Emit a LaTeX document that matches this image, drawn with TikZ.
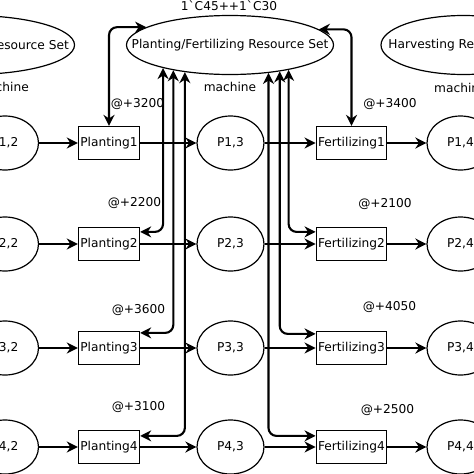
\documentclass[tikz,border=0pt]{standalone}
\usepackage{fontspec}
\setmainfont{DejaVu Sans}
\usetikzlibrary{arrows.meta,shapes.geometric}
\begin{document}
\begin{tikzpicture}[x=1pt,y=-1pt,
  font=\fontsize{12.2}{14}\selectfont,
  place/.style={draw,ellipse,line width=1.2pt,minimum width=67pt,minimum height=54pt,inner sep=0pt},
  trans/.style={draw,rectangle,line width=1.2pt,minimum height=33pt,inner xsep=1.9pt,inner ysep=0pt},
  resset/.style={draw,ellipse,line width=1.2pt,minimum height=59pt,inner sep=0pt},
  lab/.style={inner sep=0pt},
  tip/.tip={Stealth[length=11pt,width=11pt,inset=3.5pt]},
  arc/.style={line width=2.1pt,-tip},
  thinarc/.style={line width=1.4pt,-tip},
  dblarc/.style={line width=2.1pt,rounded corners=8pt,tip-tip}
]
\useasboundingbox (0,0) rectangle (474,474);
\clip (0,0) rectangle (474,474);

% resource sets
\node[resset,minimum width=207pt] (prev) at (-29,45) {};
\node[lab,anchor=east] (prevtext) at (69,45) {Resource Set};
\node[resset,minimum width=207pt] (pf) at (230,45) {};
\node[lab] (pftext) at (pf.center) {Planting/Fertilizing Resource Set};
\node[resset,minimum width=165pt] (hv) at (463.5,45) {};
\node[lab] (hvtext) at (hv.center) {Harvesting Resource Set};
\node[lab] (init) at (229,6) {1\textasciigrave C45++1\textasciigrave C30};
\node[lab,anchor=east] (mach1) at (29,87) {machine};
\node[lab] (mach2) at (230,87) {machine};
\node[lab,anchor=west] (mach3) at (434,88) {machine};

% rows
\foreach \i/\y in {1/143,2/244,3/348,4/447}{
  \node[place] (pa\i) at (5,\y) {P\i,2};
  \node[trans] (pl\i) at (109,\y) {Planting\i};
  \node[place] (pb\i) at (230.5,\y) {P\i,3};
  \node[trans] (fe\i) at (351.5,\y) {Fertilizing\i};
  \node[place] (pc\i) at (460.5,\y) {P\i,4};
  \draw[arc] (pa\i) -- (pl\i);
  \draw[arc] (pl\i) -- (pb\i);
  \draw[arc] (fe\i) -- (pc\i);
}
\draw[arc] (pb1) -- (fe1);
\draw[arc] (pb2) -- (fe2);
\draw[arc] (pb3) -- (fe3);
\draw[thinarc] (pb4) -- (fe4);

% resource arcs
\draw[dblarc] (pl1.north) |- (pf.168.7);
\draw[dblarc] (fe1.north) |- (pf.10.2);
\draw[dblarc] ([yshift=-5pt]pl2.north east) -| (pf.199);
\draw[dblarc] ([yshift=-2pt]pl3.north east) -| (pf.204.4);
\draw[dblarc] ([yshift=-6pt]pl4.north east) -| (pf.211.3);
\draw[dblarc] ([yshift=-5pt]fe2.north west) -| (pf.337.7);
\draw[dblarc] ([yshift=-3pt]fe3.north west) -| (pf.332.1);
\draw[dblarc] ([yshift=-6pt]fe4.north west) -| (pf.324.2);

% delays
\node[lab] (d1) at (137.5,104) {@+3200};
\node[lab] (d2) at (390,104) {@+3400};
\node[lab] (d3) at (134.5,203) {@+2200};
\node[lab] (d4) at (385,204) {@+2100};
\node[lab] (d5) at (138.5,310) {@+3600};
\node[lab] (d6) at (389.5,307) {@+4050};
\node[lab] (d7) at (138.5,407) {@+3100};
\node[lab] (d8) at (387.5,410) {@+2500};
\end{tikzpicture}
\end{document}
